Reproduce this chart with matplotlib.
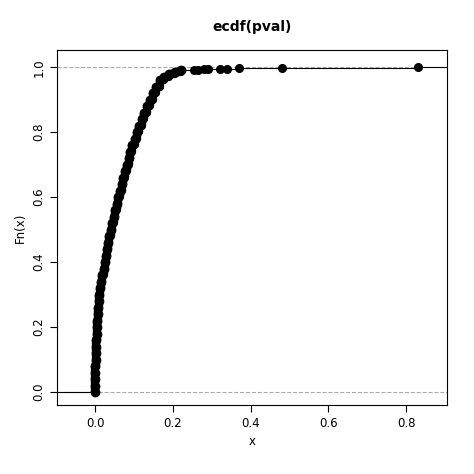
import matplotlib
matplotlib.use("Agg")
import matplotlib.pyplot as plt

fn_vals = [0,.02,.04,.06,.08,.10,.12,.14,.16,.18,.20,.22,.24,.26,.28,.30,.32,.34,.36,.38,
           .40,.42,.44,.46,.48,.50,.52,.54,.56,.58,.60,.62,.64,.66,.68,.70,.72,.74,.76,.78,
           .80,.82,.84,.86,.88,.90,.92,.94,.96,.97,.98,.985,.99]
x_vals = [0,0,0,.0005,.001,.0015,.002,.003,.0035,.004,.005,.006,.007,.008,.009,.011,.013,.016,.019,.022,
          .025,.028,.031,.034,.037,.040,.044,.048,.052,.056,.060,.064,.068,.072,.076,.081,.086,.091,.096,.102,
          .108,.114,.120,.126,.133,.140,.148,.157,.168,.176,.19,.205,.22]
out_x = [.255,.265,.28,.29,.32,.34,.37,.48,.83]
out_fn = [.991,.992,.993,.994,.995,.996,.997,.998,1.0]

fig = plt.figure(figsize=(4.74,4.74), dpi=100)
ax = fig.add_axes([57/474, 1-405/474, 390/474, 355/474])
ax.axhline(0, color='#aaaaaa', ls='--', lw=0.8)
ax.axhline(1, color='#aaaaaa', ls='--', lw=0.8)
ax.plot(x_vals, fn_vals, color='black', lw=6, solid_capstyle='round', drawstyle='steps-post')
ax.plot(x_vals, fn_vals, 'o', color='black', ms=6)
allx = x_vals + out_x
allf = fn_vals + out_fn
ax.plot(allx[-10:] + [1.2], allf[-10:] + [1.0], color='black', lw=0.8, drawstyle='steps-post')
ax.plot([-1, 0], [0, 0], color='black', lw=0.8)
ax.plot(out_x, out_fn, 'o', color='black', ms=5.5)
ax.set_xlim(-0.098, 0.905)
ax.set_ylim(-0.04, 1.053)
ax.set_xticks([0, .2, .4, .6, .8])
ax.set_xticklabels(['0.0', '0.2', '0.4', '0.6', '0.8'])
ax.set_yticks([0, .2, .4, .6, .8, 1.0])
ax.set_yticklabels(['0.0', '0.2', '0.4', '0.6', '0.8', '1.0'], rotation=90, va='center')
ax.tick_params(labelsize=8.5, direction='out', length=5)
ax.set_xlabel('x', fontsize=8.5)
ax.set_ylabel('Fn(x)', fontsize=8.5)
ax.set_title('ecdf(pval)', fontsize=10, fontweight='bold', pad=14)
fig.savefig('out.png', dpi=100)
